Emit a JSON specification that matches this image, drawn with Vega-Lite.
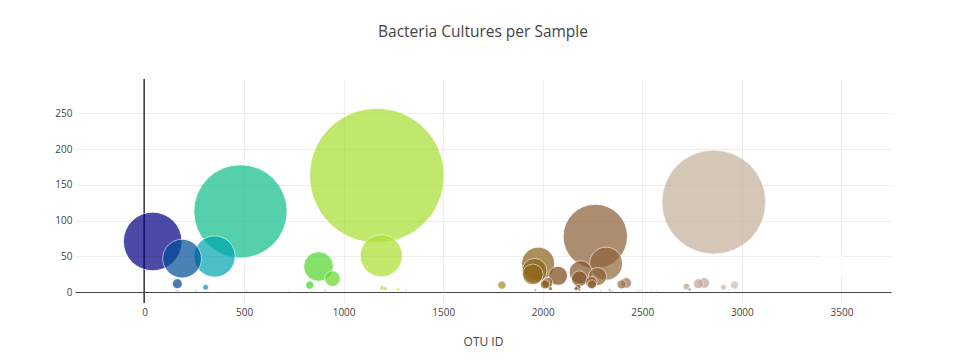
{
  "$schema": "https://vega.github.io/schema/vega-lite/v6.json",
  "width": 816,
  "height": 224,
  "autosize": "none",
  "padding": {"left": 75, "top": 79, "right": 67, "bottom": 56},
  "background": "white",
  "title": {"text": "Bacteria Cultures per Sample", "fontSize": 15.5, "font": "Open Sans", "fontWeight": "normal", "color": "#444", "anchor": "middle", "offset": 38},
  "config": {"font": "Open Sans", "view": {"stroke": null}},
  "data": {"values": [
    {"otu": 1167, "value": 163}, {"otu": 2859, "value": 126}, {"otu": 482, "value": 113}, {"otu": 2264, "value": 78},
    {"otu": 41, "value": 71}, {"otu": 1189, "value": 51}, {"otu": 352, "value": 50}, {"otu": 189, "value": 47},
    {"otu": 2318, "value": 40}, {"otu": 1977, "value": 40}, {"otu": 3450, "value": 37}, {"otu": 874, "value": 36},
    {"otu": 1959, "value": 30}, {"otu": 2191, "value": 28}, {"otu": 1950, "value": 25}, {"otu": 2077, "value": 23},
    {"otu": 2275, "value": 22}, {"otu": 944, "value": 19}, {"otu": 2184, "value": 19}, {"otu": 2244, "value": 14},
    {"otu": 2024, "value": 13}, {"otu": 2419, "value": 13}, {"otu": 2811, "value": 13}, {"otu": 165, "value": 12},
    {"otu": 2782, "value": 12}, {"otu": 2247, "value": 11}, {"otu": 2011, "value": 11}, {"otu": 2396, "value": 11},
    {"otu": 830, "value": 10}, {"otu": 2964, "value": 10}, {"otu": 1795, "value": 10}, {"otu": 2722, "value": 8},
    {"otu": 307, "value": 7}, {"otu": 2178, "value": 7}, {"otu": 2908, "value": 7}, {"otu": 1193, "value": 6},
    {"otu": 2167, "value": 5}, {"otu": 1208, "value": 5}, {"otu": 2039, "value": 5}, {"otu": 1274, "value": 4},
    {"otu": 2739, "value": 4}, {"otu": 2737, "value": 4}, {"otu": 1314, "value": 3}, {"otu": 1962, "value": 3},
    {"otu": 2186, "value": 3}, {"otu": 2335, "value": 3}, {"otu": 2936, "value": 3}, {"otu": 907, "value": 3},
    {"otu": 833, "value": 2}, {"otu": 2483, "value": 2}, {"otu": 2475, "value": 2}, {"otu": 2491, "value": 2},
    {"otu": 2291, "value": 2}, {"otu": 159, "value": 2}, {"otu": 2571, "value": 2}, {"otu": 2350, "value": 2},
    {"otu": 2342, "value": 2}, {"otu": 2546, "value": 2}, {"otu": 725, "value": 2}, {"otu": 170, "value": 2},
    {"otu": 1505, "value": 2}, {"otu": 513, "value": 2}, {"otu": 259, "value": 2}, {"otu": 1169, "value": 2},
    {"otu": 258, "value": 2}, {"otu": 1232, "value": 2}, {"otu": 1497, "value": 1}, {"otu": 1498, "value": 1},
    {"otu": 1503, "value": 1}, {"otu": 412, "value": 1}, {"otu": 2235, "value": 1}, {"otu": 1960, "value": 1},
    {"otu": 1968, "value": 1}, {"otu": 121, "value": 1}, {"otu": 2065, "value": 1}, {"otu": 340, "value": 1},
    {"otu": 2110, "value": 1}, {"otu": 2188, "value": 1}, {"otu": 357, "value": 1}, {"otu": 342, "value": 1}
  ]},
  "layer": [
    {
      "mark": {"type": "rule", "color": "#444", "strokeWidth": 1},
      "encoding": {"x": {"datum": 0, "type": "quantitative"}}
    },
    {
      "mark": {"type": "circle", "opacity": 0.7, "stroke": "white", "strokeWidth": 0.8},
      "encoding": {
        "x": {
          "field": "otu", "type": "quantitative",
          "scale": {"domain": [-349.03, 3748.97], "nice": false, "zero": false},
          "axis": {"values": [0, 500, 1000, 1500, 2000, 2500, 3000, 3500], "format": "d", "title": "OTU ID", "grid": true, "gridColor": "#eee", "gridWidth": 1, "domain": false, "ticks": false, "tickSize": 0, "labelPadding": 4, "labelFontSize": 10, "labelColor": "#444", "labelFont": "Open Sans", "titleFont": "Open Sans", "titleFontSize": 12, "titleFontWeight": "normal", "titleColor": "#444", "titlePadding": 19}
        },
        "y": {
          "field": "value", "type": "quantitative",
          "scale": {"domain": [-15, 298], "nice": false, "zero": false},
          "axis": {"values": [0, 50, 100, 150, 200, 250], "format": "d", "title": null, "grid": true, "gridColor": {"condition": {"test": "datum.value === 0", "value": "#444"}, "value": "#eee"}, "gridWidth": 1, "domain": false, "ticks": false, "tickSize": 0, "labelPadding": 3, "labelFontSize": 10, "labelColor": "#444", "labelFont": "Open Sans"}
        },
        "size": {
          "field": "value", "type": "quantitative",
          "scale": {"type": "pow", "exponent": 2, "domain": [0, 100], "range": [0, 6806]},
          "legend": null
        },
        "color": {
          "field": "otu", "type": "quantitative",
          "scale": {"domain": [41, 381.9, 722.8, 1404.6, 2086.4, 3450], "range": ["rgb(0,0,130)", "rgb(0,180,180)", "rgb(40,210,40)", "rgb(230,230,50)", "rgb(120,70,20)", "rgb(255,255,255)"], "interpolate": "rgb"},
          "legend": null
        }
      }
    }
  ]
}
